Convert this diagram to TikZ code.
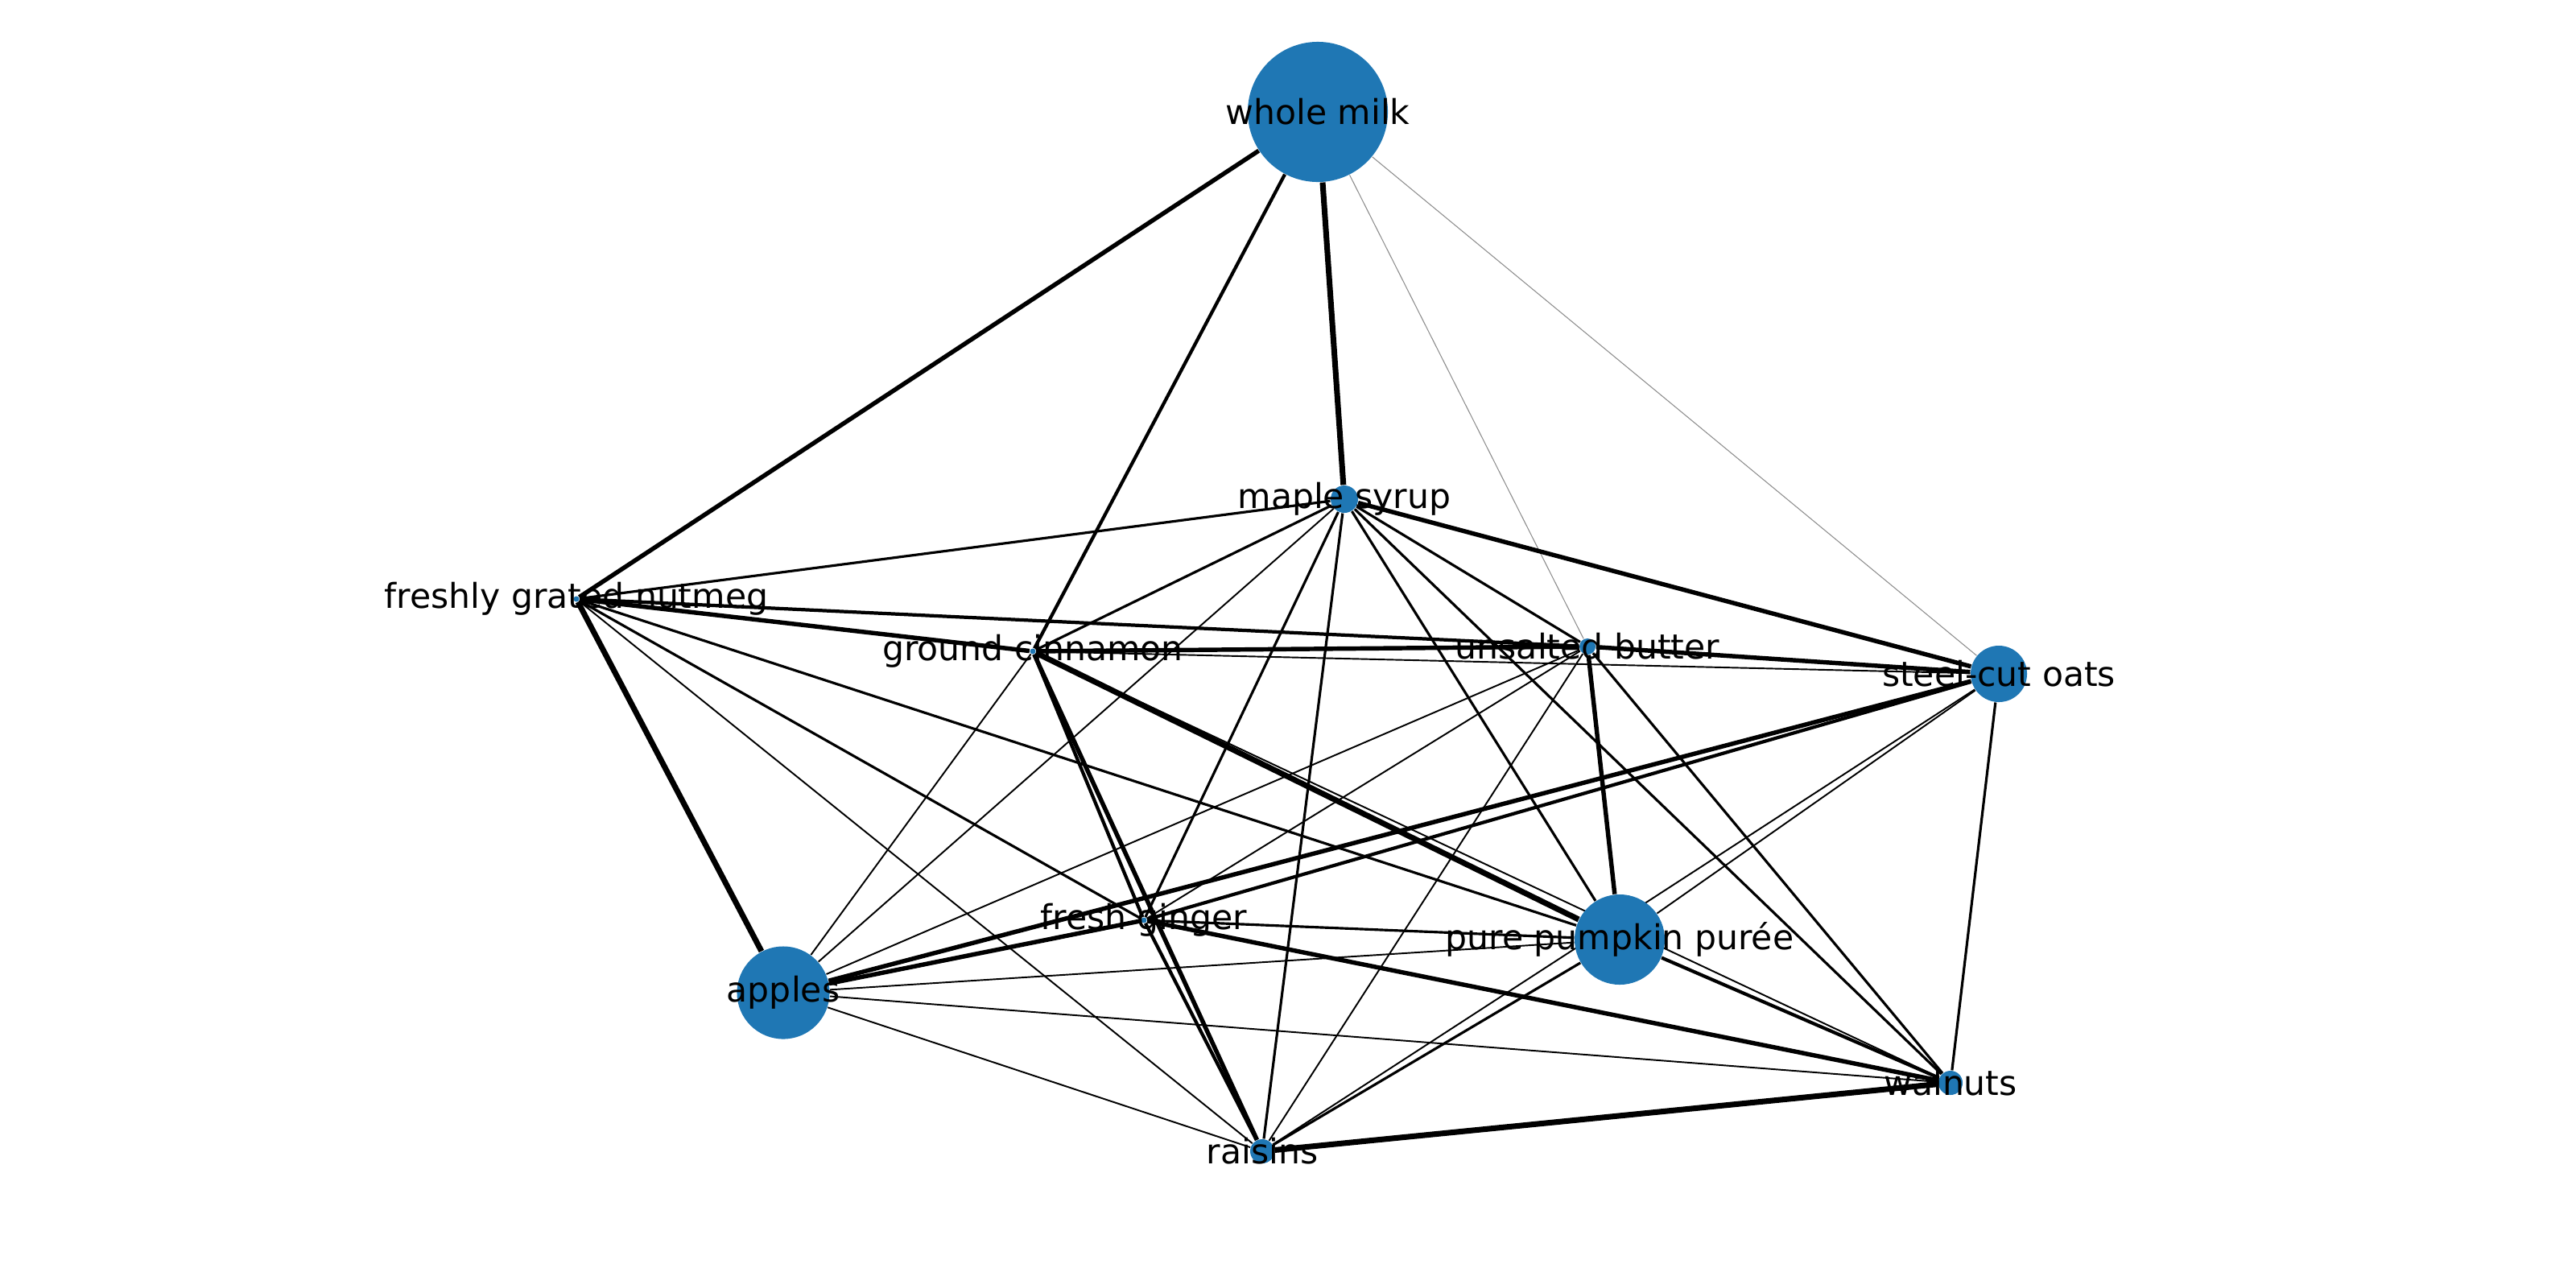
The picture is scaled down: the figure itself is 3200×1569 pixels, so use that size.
\documentclass[tikz,border=0pt]{standalone}
\usepackage{fontspec}
\setmainfont{DejaVu Sans}
\usepackage{xcolor}
\usetikzlibrary{backgrounds}

\definecolor{nxblue}{HTML}{1F77B4}

\begin{document}
\begin{tikzpicture}[
      x=0.01cm, y=-0.01cm,
      ing/.style={circle, fill=nxblue, draw=none, inner sep=0pt},
      every label/.style={font=\fontsize{12.1}{14}\selectfont, inner sep=0pt, text=black},
      w1/.style={line width=0.3pt, black!45},
      w2/.style={line width=0.55pt},
      w3/.style={line width=0.9pt},
      w4/.style={line width=1.2pt},
      w5/.style={line width=1.55pt},
      w6/.style={line width=2pt}
    ]
    \useasboundingbox (0,0) rectangle (3200,1569);
    \node[ing, minimum size=1.74cm, label=center:whole milk] (milk) at (1637,139) {};
    \node[ing, minimum size=0.34cm, label=center:maple syrup] (syrup) at (1670,620) {};
    \node[ing, minimum size=0.07cm, label=center:freshly grated nutmeg] (nutmeg) at (716,744) {};
    \node[ing, minimum size=0.07cm, label=center:ground cinnamon] (cinnamon) at (1283,809) {};
    \node[ing, minimum size=0.2cm, label=center:unsalted butter] (butter) at (1972,803) {};
    \node[ing, minimum size=0.7cm, label=center:steel-cut oats] (oats) at (2483,837) {};
    \node[ing, minimum size=0.07cm, label=center:fresh ginger] (ginger) at (1421,1143) {};
    \node[ing, minimum size=1.12cm, label=center:pure pumpkin purée] (pumpkin) at (2012,1167) {};
    \node[ing, minimum size=1.15cm, label=center:apples] (apples) at (973,1233) {};
    \node[ing, minimum size=0.3cm, label=center:walnuts] (walnuts) at (2423,1345) {};
    \node[ing, minimum size=0.3cm, label=center:raisins] (raisins) at (1568,1430) {};
    \begin{scope}[on background layer]
      % whole milk
      \draw[w6] (milk) -- (syrup);
      \draw[w5] (milk) -- (nutmeg);
      \draw[w4] (milk) -- (cinnamon);
      \draw[w1] (milk) -- (butter);
      \draw[w1] (milk) -- (oats);
      % maple syrup
      \draw[w3] (syrup) -- (nutmeg);
      \draw[w3] (syrup) -- (cinnamon);
      \draw[w2] (syrup) -- (apples);
      \draw[w3] (syrup) -- (ginger);
      \draw[w3] (syrup) -- (raisins);
      \draw[w3] (syrup) -- (pumpkin);
      \draw[w3] (syrup) -- (walnuts);
      \draw[w3] (syrup) -- (butter);
      \draw[w5] (syrup) -- (oats);
      % nutmeg
      \draw[w4] (nutmeg) -- (butter);
      \draw[w5] (nutmeg) -- (cinnamon);
      \draw[w6] (nutmeg) -- (apples);
      \draw[w3] (nutmeg) -- (ginger);
      \draw[w2] (nutmeg) -- (raisins);
      \draw[w3] (nutmeg) -- (pumpkin);
      % cinnamon
      \draw[w5] (cinnamon) -- (butter);
      \draw[w2] (cinnamon) -- (oats);
      \draw[w2] (cinnamon) -- (apples);
      \draw[w4] (cinnamon) -- (ginger);
      \draw[w5] (cinnamon) -- (raisins);
      \draw[w6] (cinnamon) -- (pumpkin);
      \draw[w2] (cinnamon) -- (walnuts);
      % butter
      \draw[w5] (butter) -- (oats);
      \draw[w2] (butter) -- (apples);
      \draw[w2] (butter) -- (ginger);
      \draw[w2] (butter) -- (raisins);
      \draw[w5] (butter) -- (pumpkin);
      \draw[w3] (butter) -- (walnuts);
      % oats
      \draw[w5] (oats) -- (apples);
      \draw[w4] (oats) -- (ginger);
      \draw[w2] (oats) -- (pumpkin);
      \draw[w2] (oats) -- (raisins);
      \draw[w3] (oats) -- (walnuts);
      % the rest
      \draw[w5] (ginger) -- (apples);
      \draw[w3] (ginger) -- (pumpkin);
      \draw[w4] (ginger) -- (raisins);
      \draw[w5] (ginger) -- (walnuts);
      \draw[w2] (apples) -- (pumpkin);
      \draw[w2] (apples) -- (walnuts);
      \draw[w2] (apples) -- (raisins);
      \draw[w3] (pumpkin) -- (raisins);
      \draw[w4] (pumpkin) -- (walnuts);
      \draw[w6] (raisins) -- (walnuts);
    \end{scope}
  \end{tikzpicture}
\end{document}
